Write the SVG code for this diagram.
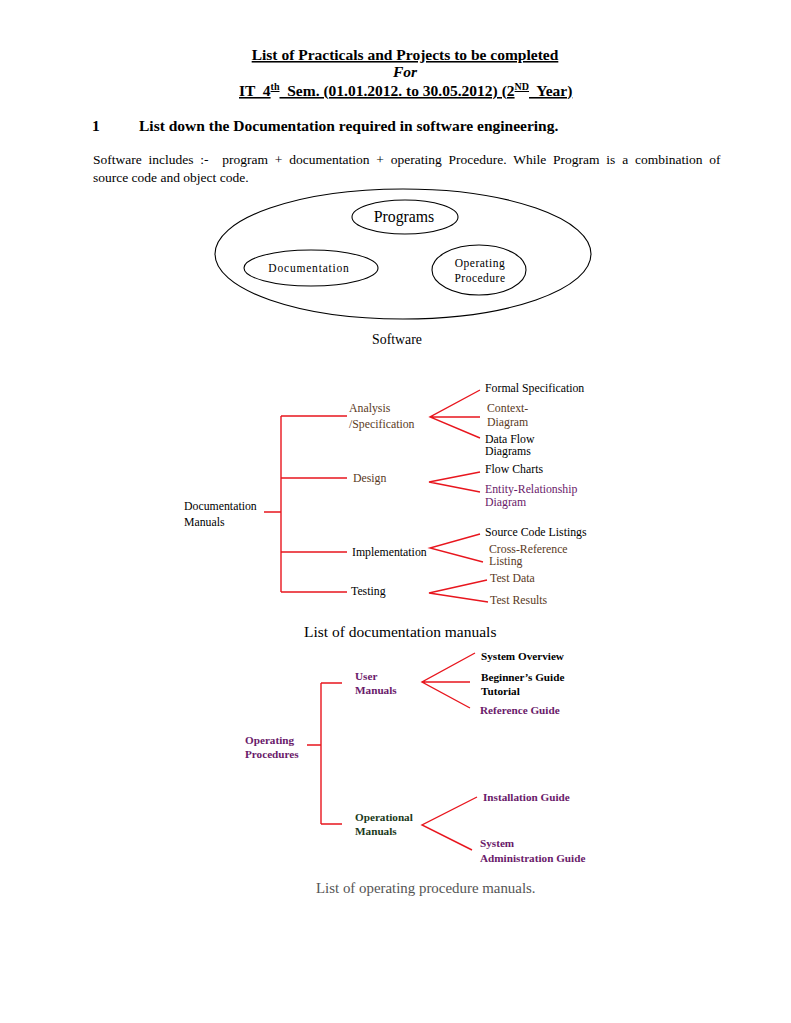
<svg xmlns="http://www.w3.org/2000/svg" width="791" height="1023" viewBox="0 0 791 1023">
<style>
text{font-family:"Liberation Serif","Times New Roman",serif;fill:#000}
.t{font-weight:bold;font-size:15.5px}
.p{font-size:13.5px}
.s{font-size:11.8px}
.b{font-size:11.2px;font-weight:bold}
.br{fill:#5a3a1e}
.pu{fill:#6a1a6a}
.gr{fill:#1a3a1a}
.ln{stroke:#e8161e;stroke-width:1.4;fill:none}
.el{fill:none;stroke:#000;stroke-width:1.1}
</style>
<rect width="791" height="1023" fill="#fff"/>
<g id="title">
<text class="t" x="405" y="60" text-anchor="middle" text-decoration="underline">List of Practicals and Projects to be completed</text>
<text class="t" x="405" y="77" text-anchor="middle" font-style="italic">For</text>
<text class="t" x="239" y="96" text-decoration="underline" xml:space="preserve">IT  4<tspan font-size="10" dy="-6">th</tspan><tspan dy="6">  Sem. (01.01.2012. to 30.05.2012) (2</tspan><tspan font-size="10" dy="-6">ND</tspan><tspan dy="6">  Year)</tspan></text>
</g>
<g id="heading">
<text class="t" x="92" y="131">1</text>
<text class="t" x="139" y="131">List down the Documentation required in software engineering.</text>
</g>
<g id="para">
<text class="p" x="93" y="164" word-spacing="3.45" xml:space="preserve">Software includes :-  program + documentation + operating Procedure. While Program is a combination of</text>
<text class="p" x="93" y="182">source code and object code.</text>
</g>
<g id="software">
<ellipse class="el" cx="403" cy="254" rx="188" ry="65"/>
<text x="397" y="344" text-anchor="middle" font-size="13.8">Software</text>
</g>
<g id="programs">
<ellipse class="el" cx="405" cy="217" rx="53" ry="17"/>
<text x="404" y="222" text-anchor="middle" font-size="15.8">Programs</text>
</g>
<g id="documentation">
<ellipse class="el" cx="311" cy="268" rx="67" ry="18"/>
<text x="309" y="272" text-anchor="middle" font-size="11.5" letter-spacing="0.8">Documentation</text>
</g>
<g id="operating">
<ellipse class="el" cx="479" cy="270" rx="47" ry="25"/>
<text x="480" y="267" text-anchor="middle" font-size="11.5" letter-spacing="0.5">Operating</text>
<text x="480" y="282" text-anchor="middle" font-size="11.5" letter-spacing="0.5">Procedure</text>
</g>
<g id="connectors">
<path class="ln" d="M264 512H281M281 416V592M281 416H347M281 478H347M281 552H347M281 592H347"/>
<path class="ln" d="M480 390L430 417L480 438M430 417H480"/>
<path class="ln" d="M480 472L429 482L480 492"/>
<path class="ln" d="M480 534L430 548L483 562"/>
<path class="ln" d="M487 580L429 593L488 602"/>
<path class="ln" d="M307 745H321M321 683V824M321 683H342M321 824H342"/>
<path class="ln" d="M475 653L422 682L470 708M422 682H470"/>
<path class="ln" d="M477 797L422 825L472 850"/>
</g>
<g id="doc-manuals">
<text class="s" x="184" y="510">Documentation</text>
<text class="s" x="184" y="526">Manuals</text>
</g>
<g id="analysis">
<text class="s br" x="349" y="412">Analysis</text>
<text class="s br" x="349" y="428">/Specification</text>
</g>
<g id="design"><text class="s br" x="353" y="482">Design</text></g>
<g id="implementation"><text class="s" x="352" y="556">Implementation</text></g>
<g id="testing"><text class="s" x="351" y="595">Testing</text></g>
<g id="formal-spec"><text class="s" x="485" y="392">Formal Specification</text></g>
<g id="context"><text class="s br" x="487" y="412">Context-</text><text class="s br" x="487" y="426">Diagram</text></g>
<g id="dfd"><text class="s" x="485" y="443">Data Flow</text><text class="s" x="485" y="455">Diagrams</text></g>
<g id="flow-charts"><text class="s" x="485" y="473">Flow Charts</text></g>
<g id="erd"><text class="s pu" x="485" y="493">Entity-Relationship</text><text class="s pu" x="485" y="506">Diagram</text></g>
<g id="source-code"><text class="s" x="485" y="536">Source Code Listings</text></g>
<g id="cross-ref"><text class="s br" x="489" y="553">Cross-Reference</text><text class="s br" x="489" y="565">Listing</text></g>
<g id="test-data"><text class="s br" x="490" y="582">Test Data</text></g>
<g id="test-results"><text class="s br" x="490" y="604">Test Results</text></g>
<g id="caption1"><text x="304" y="637" font-size="15.5">List of documentation manuals</text></g>
<g id="op-procedures"><text class="b pu" x="245" y="744">Operating</text><text class="b pu" x="245" y="758">Procedures</text></g>
<g id="user-manuals"><text class="b pu" x="355" y="680">User</text><text class="b pu" x="355" y="694">Manuals</text></g>
<g id="operational-manuals"><text class="b gr" x="355" y="821">Operational</text><text class="b gr" x="355" y="835">Manuals</text></g>
<g id="sys-overview"><text class="b" x="481" y="660">System Overview</text></g>
<g id="beginners"><text class="b" x="481" y="681">Beginner’s Guide</text><text class="b" x="481" y="695">Tutorial</text></g>
<g id="reference"><text class="b pu" x="480" y="714">Reference Guide</text></g>
<g id="installation"><text class="b pu" x="483" y="801">Installation Guide</text></g>
<g id="sysadmin"><text class="b pu" x="480" y="847">System</text><text class="b pu" x="480" y="862">Administration Guide</text></g>
<g id="caption2"><text x="316" y="893" font-size="14.9" style="fill:#555">List of operating procedure manuals.</text></g>
</svg>
